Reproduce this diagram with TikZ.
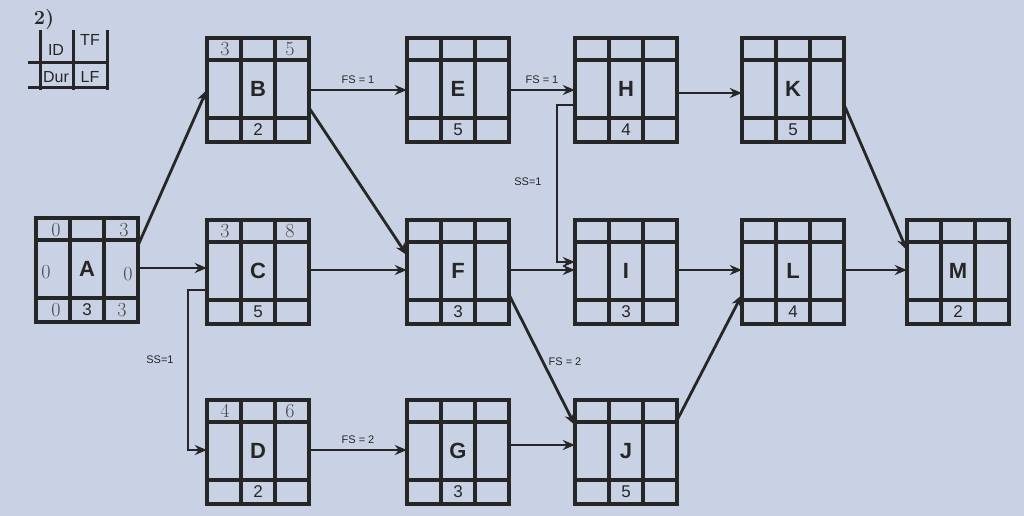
\documentclass[tikz,border=0pt]{standalone}
\usepackage{fontspec}
\setsansfont{Liberation Sans}
\usetikzlibrary{arrows.meta}
\definecolor{paper}{HTML}{C9D2E4}
\definecolor{ink}{HTML}{262626}
\tikzset{
 grid/.style={draw=ink,line width=3.6pt},
 conn/.style={draw=ink,line width=2.8pt,-{Stealth[length=12pt,width=10pt]}},
 lbl/.style={font=\sffamily\fontsize{11}{12}\selectfont,text=ink},
 hand/.style={font=\fontsize{20}{22}\selectfont,text=ink!85},
}
\newcommand{\actbox}[5]{% name,x,y,letter,dur
 \begin{scope}[shift={(#2,#3)}]
 \draw[grid] (0,0) rectangle (102,104);
 \draw[grid] (34,0)--(34,104) (68,0)--(68,104) (0,22)--(102,22) (0,80)--(102,80);
 \node[font=\sffamily\fontsize{22}{24}\selectfont\bfseries,text=ink] at (51,51) {#4};
 \node[font=\sffamily\fontsize{17}{18}\selectfont,text=ink] at (51,92) {#5};
 \end{scope}
 \node[minimum width=102pt,minimum height=104pt,inner sep=0pt] (#1) at (#2+51,#3+52) {};}
\begin{document}
\begin{tikzpicture}[x=1pt,y=-1pt]
\fill[paper] (0,0) rectangle (1024,516);
\useasboundingbox (0,0) rectangle (1024,516);
% legend
\node[font=\bfseries\fontsize{20}{22}\selectfont,text=ink] (num) at (44,20) {2)};
\draw[grid,line width=3pt] (40,30)--(40,90) (73,30)--(73,90) (107,30)--(107,90) (28,63)--(107,63) (28,88)--(107,88);
\node[lbl,font=\sffamily\fontsize{16}{17}\selectfont] (lid) at (56,50) {ID};
\node[lbl,font=\sffamily\fontsize{16}{17}\selectfont] (ltf) at (90,40) {TF};
\node[lbl,font=\sffamily\fontsize{16}{17}\selectfont] (ldur) at (56,77) {Dur};
\node[lbl,font=\sffamily\fontsize{16}{17}\selectfont] (llf) at (90,77) {LF};
% boxes
\actbox{A}{36}{218}{A}{3}
\actbox{B}{207}{38}{B}{2}
\actbox{C}{207}{220}{C}{5}
\actbox{D}{207}{400}{D}{2}
\actbox{E}{407}{38}{E}{5}
\actbox{F}{407}{220}{F}{3}
\actbox{G}{407}{400}{G}{3}
\actbox{H}{575}{38}{H}{4}
\actbox{I}{575}{220}{I}{3}
\actbox{J}{575}{400}{J}{5}
\actbox{K}{742}{38}{K}{5}
\actbox{L}{742}{220}{L}{4}
\actbox{M}{907}{220}{M}{2}
% handwritten values
\node[hand] (a1) at (56,230) {0}; \node[hand] (a2) at (124,230) {3};
\node[hand] (a3) at (46,272) {0}; \node[hand] (a4) at (128,274) {0};
\node[hand] (a5) at (56,310) {0}; \node[hand] (a6) at (122,310) {3};
\node[hand] (b1) at (225,49) {3}; \node[hand] (b2) at (290,49) {5};
\node[hand] (c1) at (225,231) {3}; \node[hand] (c2) at (290,231) {8};
\node[hand] (d1) at (225,411) {4}; \node[hand] (d2) at (290,411) {6};
% connectors
\draw[conn] (A.east |- 0,245) -- (B.west);
\draw[conn] (A.east |- 0,268) -- (C.west |- 0,268);
\coordinate (cd1) at (205,290); \coordinate (cd2) at (188,290); \coordinate (cd3) at (188,450);
\draw[conn] (cd1) -- (cd2) -- (cd3) -- (D.west |- cd3);
\node[lbl] (l1) at (160,360) {SS=1};
\draw[conn] (B.east |- 0,90) -- node[lbl,above=2pt] {FS = 1} (E.west |- 0,90);
\draw[conn] (B.east |- 0,108) -- (F.west |- 0,255);
\draw[conn] (C.east |- 0,270) -- (F.west |- 0,270);
\draw[conn] (E.east |- 0,90) -- node[lbl,above=2pt] {FS = 1} (H.west |- 0,90);
\coordinate (hi1) at (575,105); \coordinate (hi2) at (557,105); \coordinate (hi3) at (557,262);
\draw[conn] (hi1) -- (hi2) -- (hi3) -- (I.west |- hi3);
\node[lbl] (l2) at (528,182) {SS=1};
\draw[conn] (F.east |- 0,270) -- (I.west |- 0,270);
\draw[conn] (F.east |- 0,295) -- (J.west |- 0,425);
\node[lbl] (l3) at (565,362) {FS = 2};
\draw[conn] (D.east |- 0,450) -- node[lbl,above=2pt] {FS = 2} (G.west |- 0,450);
\draw[conn] (G.east |- 0,445) -- (J.west |- 0,445);
\draw[conn] (H.east |- 0,93) -- (K.west |- 0,93);
\draw[conn] (I.east |- 0,270) -- (L.west |- 0,270);
\draw[conn] (J.east |- 0,420) -- (L.west |- 0,295);
\draw[conn] (K.east |- 0,105) -- (M.west |- 0,250);
\draw[conn] (L.east |- 0,270) -- (M.west |- 0,270);
\end{tikzpicture}
\end{document}
